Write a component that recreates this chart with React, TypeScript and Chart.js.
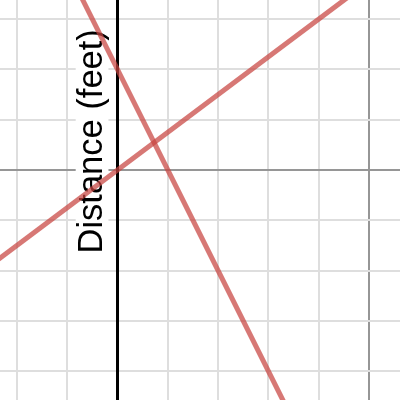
import { useEffect, useRef } from 'react';
import { Chart, registerables, Plugin } from 'chart.js';

Chart.register(...registerables);

// line: rises 3 for every 4, crosses y = 0 at x = -5
const riseX = [-9, 3];
const riseY = [-3, 6];
// steep line: falls 2 for every 1, crosses y = 0 at x = -4
const fallX = [-6, -1];
const fallY = [4, -6];
// vertical black line at x = -5
const wallX = [-5, -5];
const wallY = [-6, 5];

const xRange = [-7.336, 0.616];
const yRange = [-4.573, 3.38];
const gridStep = 1;

const axisTitle = 'Distance (feet)';
const titleAt = { x: -5.31, y: 0.57 };

const RED = 'rgba(199, 68, 64, 0.72)';

const toPoints = (xs: number[], ys: number[]) => xs.map((x, i) => ({ x, y: ys[i] }));

// draws the rotated label with a white box, above the grid but under the lines
const titlePlugin: Plugin = {
  id: 'insideTitle',
  beforeDatasetsDraw(chart) {
    const { ctx, scales } = chart;
    const px = scales.x.getPixelForValue(titleAt.x);
    const py = scales.y.getPixelForValue(titleAt.y);
    const size = 34.5;
    ctx.save();
    ctx.translate(px, py);
    ctx.rotate(-Math.PI / 2);
    ctx.font = `${size}px "Liberation Sans", Arial, sans-serif`;
    const w = ctx.measureText(axisTitle).width;
    ctx.fillStyle = '#ffffff';
    ctx.fillRect(-w / 2 - 5, -size * 0.76, w + 10, size * 0.95);
    ctx.fillStyle = '#000000';
    ctx.textAlign = 'center';
    ctx.textBaseline = 'alphabetic';
    ctx.fillText(axisTitle, 0, 0);
    ctx.restore();
  },
};

const gridColor = (ctx: any) => (ctx.tick && ctx.tick.value === 0 ? '#969696' : '#dedede');

export default function App() {
  const canvasRef = useRef<HTMLCanvasElement>(null);

  useEffect(() => {
    if (!canvasRef.current) return;
    const chart = new Chart(canvasRef.current, {
      type: 'scatter',
      data: {
        datasets: [
          {
            data: toPoints(riseX, riseY),
            showLine: true,
            borderColor: RED,
            borderWidth: 5,
            pointRadius: 0,
          },
          {
            data: toPoints(fallX, fallY),
            showLine: true,
            borderColor: RED,
            borderWidth: 5,
            pointRadius: 0,
          },
          {
            data: toPoints(wallX, wallY),
            showLine: true,
            borderColor: '#000000',
            borderWidth: 3,
            pointRadius: 0,
          },
        ],
      },
      options: {
        animation: false,
        responsive: false,
        layout: { padding: 0 },
        plugins: { legend: { display: false }, tooltip: { enabled: false } },
        scales: {
          x: {
            type: 'linear',
            min: xRange[0],
            max: xRange[1],
            ticks: { display: false, stepSize: gridStep, includeBounds: false },
            grid: { color: gridColor, lineWidth: 2, drawTicks: false },
            border: { display: false },
          },
          y: {
            type: 'linear',
            min: yRange[0],
            max: yRange[1],
            ticks: { display: false, stepSize: gridStep, includeBounds: false },
            grid: { color: gridColor, lineWidth: 2, drawTicks: false },
            border: { display: false },
          },
        },
      },
      plugins: [titlePlugin],
    });
    return () => chart.destroy();
  }, []);

  return (
    <div style={{ position: 'fixed', left: 0, top: 0, width: 400, height: 400, background: '#fff' }}>
      <canvas ref={canvasRef} width={400} height={400} />
    </div>
  );
}
